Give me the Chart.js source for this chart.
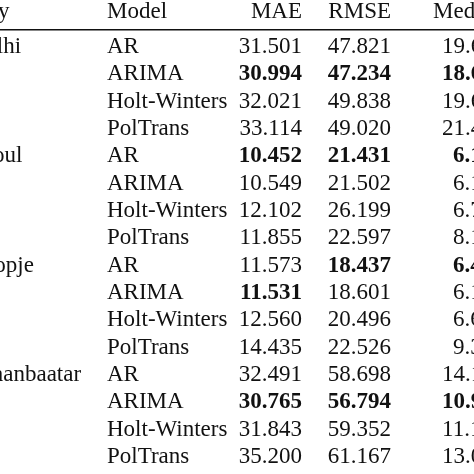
<!DOCTYPE html>
<html><head><meta charset="utf-8">
<script src="https://cdn.jsdelivr.net/npm/chart.js@4"></script>
<style>html,body{margin:0;padding:0;background:#fff;overflow:hidden}#w{width:474px;height:474px}</style>
</head><body><div id="w"><canvas id="c"></canvas></div>
<script>
const headers = ["City","Model","MAE","RMSE","Median"];
const cities = ["Delhi","Seoul","Skopje","Ulaanbaatar"];
const models = ["AR","ARIMA","Holt-Winters","PolTrans"];
const mae = [31.501,30.994,32.021,33.114, 10.452,10.549,12.102,11.855, 11.573,11.531,12.560,14.435, 32.491,30.765,31.843,35.200];
const rmse = [47.821,47.234,49.838,49.020, 21.431,21.502,26.199,22.597, 18.437,18.601,20.496,22.526, 58.698,56.794,59.352,61.167];
const med = [19.62,18.61,19.63,21.45, 6.11,6.13,6.71,8.12, 6.43,6.12,6.62,9.31, 14.12,10.95,11.12,13.02];
const boldMae = [1,4,9,13];
const boldRmse = [1,4,8,13];
const boldMed = [1,4,8,13];
const fmt3 = v => v.toFixed(3);
const fmt2 = v => v.toFixed(2);

const colX = {city:-30, model:107, mae:302, rmse:391, med:442};
const tablePlugin = {
  id:'table',
  afterDraw(chart){
    const ctx = chart.ctx, xs = chart.scales.x, ys = chart.scales.y;
    const reg = '23px "Liberation Serif", "Times New Roman", serif';
    const bold = 'bold 23px "Liberation Serif", "Times New Roman", serif';
    ctx.save(); ctx.fillStyle='#111'; ctx.textBaseline='middle';
    const put=(t,x,v,align,b)=>{ctx.font=b?bold:reg;ctx.textAlign=align;ctx.fillText(t,xs.getPixelForValue(x),ys.getPixelForValue(v));};
    const hy=-1.28;
    put(headers[0],colX.city,hy,'left');
    put(headers[1],colX.model,hy,'left');
    put(headers[2],colX.mae,hy,'right');
    put(headers[3],colX.rmse,hy,'right');
    put(headers[4],colX.med-9,hy,'left');
    ctx.strokeStyle='#111'; ctx.lineWidth=1.5;
    const ly=ys.getPixelForValue(-0.63);
    ctx.beginPath(); ctx.moveTo(0,ly); ctx.lineTo(474,ly); ctx.stroke();
    for(let i=0;i<16;i++){
      if(i%4===0) put(cities[i/4],colX.city,i,'left');
      put(models[i%4],colX.model,i,'left');
      put(fmt3(mae[i]),colX.mae,i,'right',boldMae.includes(i));
      put(fmt3(rmse[i]),colX.rmse,i,'right',boldRmse.includes(i));
      put(fmt2(med[i]),colX.med+ (med[i]<10?11:0),i,'left',boldMed.includes(i));
    }
    ctx.restore();
  }
};
new Chart(document.getElementById('c'),{
  type:'scatter',
  data:{datasets:[{data:[]}]},
  options:{responsive:true,maintainAspectRatio:false,animation:false,
    layout:{padding:0},
    plugins:{legend:{display:false},tooltip:{enabled:false}},
    scales:{x:{type:'linear',min:0,max:474,display:false},
            y:{type:'linear',min:-1.72,max:15.62,reverse:true,display:false}}},
  plugins:[tablePlugin]
});
</script></body></html>
